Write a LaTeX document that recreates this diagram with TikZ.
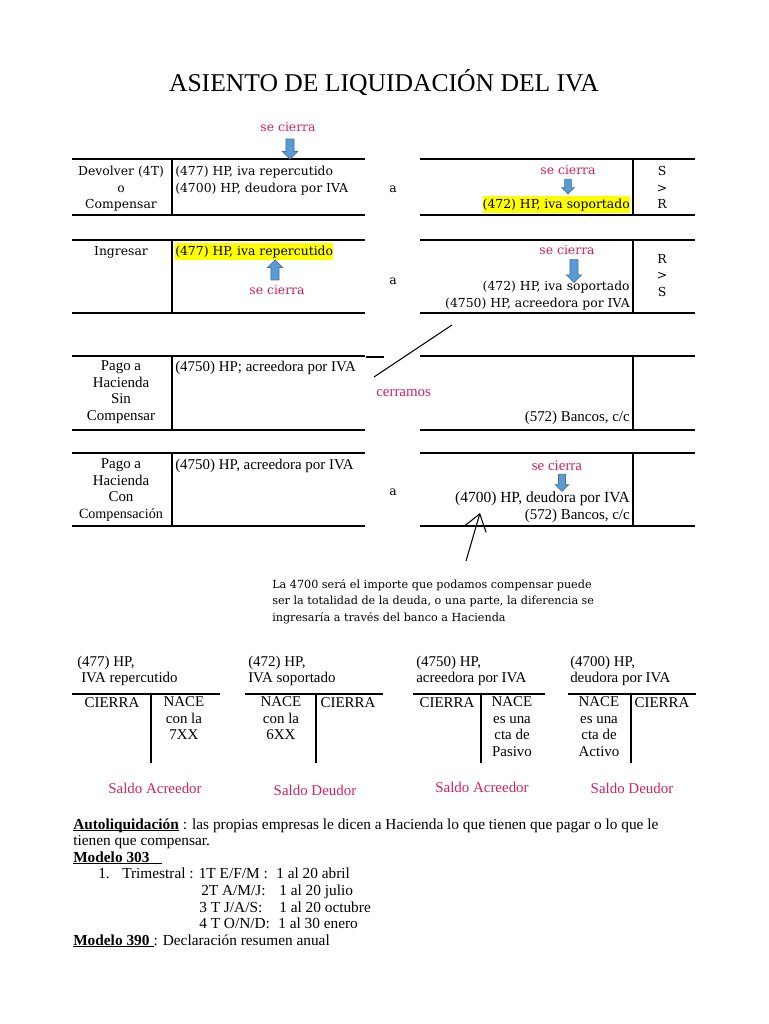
\documentclass[tikz,border=0pt]{standalone}
\usepackage{fontspec}
\setmainfont{Liberation Serif}
\newfontfamily\dvs{DejaVu Serif}
\usetikzlibrary{shapes.arrows,arrows.meta}
\definecolor{cierre}{RGB}{214,32,92}
\definecolor{flecha}{RGB}{91,155,213}
\definecolor{flechaborde}{RGB}{65,113,156}
\definecolor{resalte}{RGB}{255,255,0}
\newcommand\subr[1]{\setbox0\hbox{#1}\rlap{\rule[-1.7pt]{\wd0}{0.75pt}}\box0\relax}

\begin{document}
\begin{tikzpicture}[x=0.75pt, y=-0.75pt, >=stealth,
  every node/.style={inner sep=0pt},
  dv/.style={font=\dvs\fontsize{9.3}{12.4}\selectfont},
  tm/.style={font=\fontsize{11.2}{12.4}\selectfont},
  tb/.style={font=\fontsize{11.5}{12.4}\selectfont},
  rojo/.style={text=cierre},
  marca/.style={fill=resalte, text height=9.2pt, text depth=3.4pt},
  regla/.style={line width=0.9pt},
  bloque/.style={single arrow, draw=flechaborde, fill=flecha, line width=0.5pt,
    inner xsep=0pt, inner ysep=2.8pt, single arrow head extend=2.6pt}]
  \fill[white] (0,0) rectangle (768,1024);
  \useasboundingbox (0,0) rectangle (768,1024);

  \node[tm, font=\fontsize{19.2}{22}\selectfont, anchor=base] (titulo) at (384,91) {ASIENTO DE LIQUIDACIÓN DEL IVA};

  % Devolver o compensar
  \draw[regla] (72,159) -- (365,159) (420,159) -- (695,159);
  \draw[regla] (72,215) -- (365,215) (420,215) -- (695,215);
  \draw[regla] (172,159) -- (172,215) (633,159) -- (633,215);
  \node[dv, rojo, anchor=base] (cierra1) at (288,132) {se cierra};
  \node[bloque, rotate=-90, minimum height=15pt] (flecha1) at (290,147) {};
  \node[dv, align=center, anchor=north] (devolver) at (121,166) {Devolver (4T)\\o\\Compensar};
  \node[dv, align=left, anchor=north west] (debe1) at (175,166) {(477) HP, iva repercutido\\(4700) HP, deudora por IVA};
  \node[dv, anchor=base] (a1) at (393,192) {a};
  \node[dv, rojo, anchor=base] (cierra2) at (568,174) {se cierra};
  \node[bloque, rotate=-90, minimum height=11pt, inner ysep=2.2pt, single arrow head extend=2.2pt] (flecha2) at (568,185) {};
  \node[dv, marca, anchor=base east] (haber1) at (630,208) {(472) HP, iva soportado};
  \node[dv, align=center, anchor=north] (sr) at (662,166) {S\\>\\R};

  % Ingresar
  \draw[regla] (72,240) -- (365,240) (420,240) -- (695,240);
  \draw[regla] (72,313) -- (365,313) (420,313) -- (695,313);
  \draw[regla] (172,240) -- (172,313) (633,240) -- (633,313);
  \node[dv, anchor=base] (ingresar) at (121,255) {Ingresar};
  \node[dv, marca, anchor=base west] (debe2) at (175,255) {(477) HP, iva repercutido};
  \node[bloque, rotate=90, minimum height=15pt] (flecha3) at (275,272) {};
  \node[dv, rojo, anchor=base] (cierra3) at (277,294) {se cierra};
  \node[dv, anchor=base] (a2) at (393,284) {a};
  \node[dv, rojo, anchor=base] (cierra4) at (567,254) {se cierra};
  \node[bloque, rotate=-90, minimum height=17pt] (flecha4) at (574,269) {};
  \node[dv, align=right, anchor=north east] (haber2) at (630,281) {(472) HP, iva soportado\\(4750) HP, acreedora por IVA};
  \node[dv, align=center, anchor=north] (rs) at (662,254) {R\\>\\S};

  % Pago sin compensar
  \draw[regla] (72,356) -- (365,356) (420,356) -- (695,356);
  \draw[line width=1.6pt] (366,357) -- (384,357);
  \draw[regla] (72,430) -- (365,430) (420,430) -- (695,430);
  \draw[regla] (172,356) -- (172,430) (633,356) -- (633,430);
  \coordinate (diag1) at (374,377);
  \coordinate (diag2) at (452,325);
  \draw[line width=0.8pt] (diag1) -- (diag2);
  \node[tm, rojo, anchor=base west] (cerramos) at (376,396) {cerramos};
  \node[tm, align=center, anchor=north] (sincomp) at (121,360.5) {Pago a\\Hacienda\\Sin\\Compensar};
  \node[tm, anchor=base west] (debe3) at (175,371) {(4750) HP; acreedora por IVA};
  \node[tm, anchor=base east] (haber3) at (630,421) {(572) Bancos, c/c};

  % Pago con compensacion
  \draw[regla] (72,453) -- (365,453) (420,453) -- (695,453);
  \draw[regla] (72,526) -- (365,526) (420,526) -- (695,526);
  \draw[regla] (172,453) -- (172,526) (633,453) -- (633,526);
  \node[tm, align=center, anchor=north] (concomp) at (121,458.5) {Pago a\\Hacienda\\Con\\{\fontsize{10.6}{12.4}\selectfont Compensación}};
  \node[tm, anchor=base west] (debe4) at (175,469) {(4750) HP, acreedora por IVA};
  \node[dv, anchor=base] (a4) at (393,495) {a};
  \node[tm, rojo, anchor=base] (cierra5) at (557,470) {se cierra};
  \node[bloque, rotate=-90, minimum height=13pt, inner ysep=2.4pt, single arrow head extend=2.4pt] (flecha5) at (562,481) {};
  \node[tm, align=right, anchor=north east] (haber4) at (630,491.5) {{\fontsize{11.6}{12.4}\selectfont (4700) HP, deudora por IVA}\\(572) Bancos, c/c};
  \coordinate (nota-punta) at (480,513);
  \coordinate (nota-cola) at (466,561);
  \draw[line width=0.8pt, -{Straight Barb[length=12pt,width=17pt]}] (nota-cola) -- (nota-punta);

  \node[dv, font=\dvs\fontsize{8.4}{12.4}\selectfont, align=left, anchor=north west] (nota) at (272,579)
    {La 4700 será el importe que podamos compensar puede\\ser la totalidad de la deuda, o una parte, la diferencia se\\ingresaría a través del banco a Hacienda};

  % cuentas en T
  \node[tm, align=left, anchor=north west] (cta477) at (77,655.5) {(477) HP,\\\hspace{3pt}IVA repercutido};
  \node[tm, align=left, anchor=north west] (cta472) at (248,655.5) {(472) HP,\\IVA soportado};
  \node[tm, align=left, anchor=north west] (cta4750) at (416,655.5) {(4750) HP,\\acreedora por IVA};
  \node[tm, align=left, anchor=north west] (cta4700) at (570,655.5) {(4700) HP,\\deudora por IVA};
  \draw[regla] (72,694) -- (220,694) (151,694) -- (151,763);
  \draw[regla] (245,694) -- (383,694) (316,694) -- (316,763);
  \draw[regla] (413,694) -- (545,694) (481,694) -- (481,763);
  \draw[regla] (568,694) -- (696,694) (631,694) -- (631,763);
  \node[tm, anchor=base] (c477) at (112,707) {CIERRA};
  \node[tm, align=center, anchor=north] (n477) at (184,696.5) {NACE\\con la\\7XX};
  \node[tm, align=center, anchor=north] (n472) at (281,696.5) {NACE\\con la\\6XX};
  \node[tm, anchor=base] (c472) at (348,707) {CIERRA};
  \node[tm, anchor=base] (c4750) at (447,707) {CIERRA};
  \node[tm, align=center, anchor=north] (n4750) at (512,696.5) {NACE\\es una\\cta de\\Pasivo};
  \node[tm, align=center, anchor=north] (n4700) at (599,696.5) {NACE\\es una\\cta de\\Activo};
  \node[tm, anchor=base] (c4700) at (662,707) {CIERRA};
  \node[tm, rojo, anchor=base] (s477) at (155,793) {Saldo Acreedor};
  \node[tm, rojo, anchor=base] (s472) at (315,795) {Saldo Deudor};
  \node[tm, rojo, anchor=base] (s4750) at (482,792) {Saldo Acreedor};
  \node[tm, rojo, anchor=base] (s4700) at (632,793) {Saldo Deudor};

  % texto final
  \node[tb, anchor=base west] (auto1) at (73,829) {\subr{\textbf{Autoliquidación}} : las propias empresas le dicen a Hacienda lo que tienen que pagar o lo que le};
  \node[tb, anchor=base west] (auto2) at (73,845) {tienen que compensar.};
  \node[tb, anchor=base west] (m303) at (73,862) {\subr{\textbf{Modelo 303}\hspace{9.5pt}}};
  \node[tb, anchor=base west] (num1) at (98,878) {1.};
  \node[tb, anchor=base west] (tri1) at (122,878) {Trimestral : 1T E/F/M :};
  \node[tb, anchor=base west] (fec1) at (276,878) {1 al 20 abril};
  \node[tb, anchor=base west] (tri2) at (201,895) {2T A/M/J:};
  \node[tb, anchor=base west] (fec2) at (279,895) {1 al 20 julio};
  \node[tb, anchor=base west] (tri3) at (199,912) {3 T J/A/S:};
  \node[tb, anchor=base west] (fec3) at (279,912) {1 al 20 octubre};
  \node[tb, anchor=base west] (tri4) at (199,928) {4 T O/N/D:};
  \node[tb, anchor=base west] (fec4) at (278,928) {1 al 30 enero};
  \node[tb, anchor=base west] (m390) at (73,945) {\subr{\textbf{Modelo 390}\hspace{3pt}}: Declaración resumen anual};
\end{tikzpicture}
\end{document}
